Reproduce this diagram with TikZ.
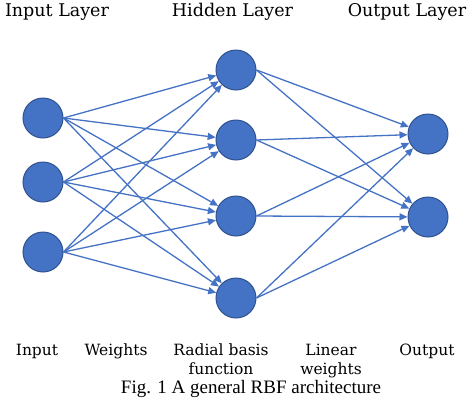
\documentclass[tikz,border=0pt]{standalone}
\usepackage{fontspec}
\setmainfont{Liberation Serif}
\newfontfamily\labelfont{DejaVu Serif}
\usetikzlibrary{arrows.meta}
\definecolor{nodefill}{HTML}{4472C4}
\definecolor{nodeline}{HTML}{2F528F}
\definecolor{edgecol}{HTML}{4472C4}
\begin{document}
\begin{tikzpicture}[x=1pt,y=-1pt,
  neuron/.style={circle,fill=nodefill,draw=nodeline,line width=1pt,minimum size=40pt,inner sep=0pt},
  conn/.style={draw=edgecol,line width=1.3pt,-{Triangle[length=8pt,width=7pt]}},
  layertitle/.style={font=\labelfont\fontsize{17.5}{20}\selectfont,inner sep=0pt},
  bottomlabel/.style={font=\labelfont\fontsize{15.5}{19}\selectfont,inner sep=0pt,align=center},
  captionstyle/.style={font=\fontsize{19}{22}\selectfont,inner sep=0pt}]
\useasboundingbox (0,0) rectangle (474,410);
% titles
\node[layertitle] (tin) at (57,12) {Input Layer};
\node[layertitle] (thid) at (232.5,12) {Hidden Layer};
\node[layertitle] (tout) at (407,12) {Output Layer};
% neurons
\node[neuron] (i1) at (43,118) {};
\node[neuron] (i2) at (43,182) {};
\node[neuron] (i3) at (43,252) {};
\node[neuron] (h1) at (236,70) {};
\node[neuron] (h2) at (236,140) {};
\node[neuron] (h3) at (236,216) {};
\node[neuron] (h4) at (236,298) {};
\node[neuron] (o1) at (428,134) {};
\node[neuron] (o2) at (428,217) {};
% connections
\foreach \s in {i1,i2,i3}{
  \foreach \t in {h1,h2,h3,h4}{
    \draw[conn] (\s.east) -- (\t);
  }
}
\foreach \s in {h1,h2,h3,h4}{
  \foreach \t in {o1,o2}{
    \draw[conn] (\s.east) -- (\t);
  }
}
% bottom labels
\node[bottomlabel,anchor=north] (linput) at (37,344) {Input};
\node[bottomlabel,anchor=north] (lweights) at (116,344) {Weights};
\node[bottomlabel,anchor=north] (lradial) at (221,344) {Radial basis\\function};
\node[bottomlabel,anchor=north] (llinear) at (331,344) {Linear\\weights};
\node[bottomlabel,anchor=north] (loutput) at (427,344) {Output};
\node[captionstyle] (cap) at (251,389) {Fig. 1 A general RBF architecture};
\end{tikzpicture}
\end{document}
